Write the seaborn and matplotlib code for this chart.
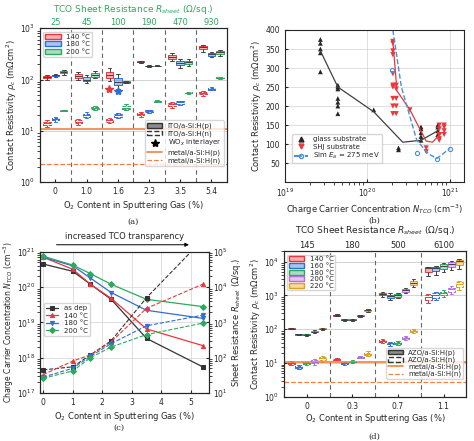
import numpy as np
import pandas as pd
import matplotlib
matplotlib.use("Agg")
import matplotlib.pyplot as plt
import seaborn as sns
from matplotlib.patches import Patch
from matplotlib.lines import Line2D
import matplotlib.colors as mcolors

sns.set_style("ticks")
plt.rcParams['font.family'] = ['DejaVu Sans']
plt.rcParams['font.size'] = 5.5

# ---------------- data (a) ----------------
a_groups = ["0", "1.0", "1.6", "2.3", "3.5", "5.4"]
a_top = ["25", "45", "100", "190", "470", "930"]
a_hues = ["140 °C", "180 °C", "200 °C"]
a_colors = ["#e8383d", "#2f6fd6", "#2ea860"]
# (low, median, high) per group for p-type (solid boxes)
a_p = {
    "140 °C": [(100, 110, 120), (100, 115, 140), (95, 120, 170), (210, 220, 230), (230, 280, 330), (350, 430, 470)],
    "180 °C": [(110, 120, 130), (85, 100, 120), (65, 90, 130), (178, 185, 190), (170, 210, 250), (270, 320, 350)],
    "200 °C": [(125, 140, 150), (105, 120, 145), (85, 90, 95), (180, 185, 190), (180, 220, 250), (290, 340, 370)],
}
a_n = {
    "140 °C": [(12, 14, 16), (13, 15, 17), (14, 16, 18), (19, 21, 23), (28, 33, 36), (48, 55, 60)],
    "180 °C": [(15, 17, 19), (18, 20, 23), (18, 20, 22), (22, 24, 26), (32, 36, 39), (62, 65, 70)],
    "200 °C": [(24, 25, 26), (25, 28, 31), (25, 28, 33), (36, 38, 40), (52, 55, 58), (103, 108, 112)],
}
a_star_groups = ["1.6", "1.6"]
a_star_hue = ["140 °C", "180 °C"]
a_star_vals = [65, 60]

# ---------------- data (b) ----------------
glass_x = [2.7e19]*5 + [4.4e19]*7 + [1.2e20] + [2.4e20]*2 + [4.5e20]*5 + [7.2e20]*4
glass_y = [290, 340, 350, 365, 375, 180, 200, 210, 220, 245, 250, 255, 190, 85, 90,
           110, 120, 130, 140, 145, 125, 135, 145, 150]
glass_fit_x = [2.7e19, 4.4e19, 1.2e20, 2.7e20, 4.5e20, 7.2e20]
glass_fit_y = [345, 250, 185, 105, 110, 135]
shj_x = [2.05e20]*10 + [2.25e20]*5 + [3.3e20] + [5.2e20]*2 + [7.5e20]*5 + [8.6e20]*4
shj_y = [180, 200, 220, 250, 255, 285, 335, 345, 365, 370, 180, 200, 220, 245, 255, 190,
         80, 90, 110, 115, 125, 140, 150, 125, 135, 145, 150]
shj_fit_x = [2.05e20, 2.3e20, 3.3e20, 5.2e20, 6.2e20, 8.0e20]
shj_fit_y = [370, 240, 190, 108, 105, 130]
sim_x = [2.0e20, 4.0e20, 7.0e20, 1.0e21]
sim_y = [295, 77, 62, 88]
sim_line_x = [2.05e20, 2.6e20, 4.0e20, 5.5e20, 7.0e20, 1.0e21]
sim_line_y = [400, 250, 110, 75, 62, 88]

# ---------------- data (c) ----------------
c_x = [0, 1, 1.6, 2.3, 3.5, 5.4]
c_names = ["as dep", "140 °C", "180 °C", "200 °C"]
c_colors = ["#333333", "#e8383d", "#2f6fd6", "#2ea860"]
c_markers = ["s", "^", "v", "D"]
c_N = {
    "as dep": [4.5e20, 2.8e20, 1.2e20, 4.5e19, 3.5e18, 5.5e17],
    "140 °C": [7e20, 3.2e20, 1.2e20, 4.8e19, 6.5e18, 2.2e18],
    "180 °C": [7e20, 4e20, 1.8e20, 7e19, 2.2e19, 1.3e19],
    "200 °C": [7.5e20, 4.2e20, 2.4e20, 1.2e20, 4.5e19, 2.8e19],
}
c_R = {
    "as dep": [45, 55, 120, 300, 5000, 2.2e5],
    "140 °C": [33, 80, 120, 280, 2500, 12000],
    "180 °C": [28, 50, 110, 250, 800, 1600],
    "200 °C": [26, 42, 100, 200, 450, 950],
}

# ---------------- data (d) ----------------
d_groups = ["0", "0.3", "0.7", "1.1"]
d_top = ["145", "180", "500", "6100"]
d_hues = ["140 °C", "160 °C", "180 °C", "200 °C", "220 °C"]
d_colors = ["#e8383d", "#2f6fd6", "#2ea860", "#b46ee0", "#e0a020"]
d_p = {
    "140 °C": [(100, 105, 110), (240, 260, 275), (900, 1100, 1300), (3800, 6500, 7000)],
    "160 °C": [(66, 70, 73), (180, 190, 200), (750, 950, 1150), (4000, 6500, 7500)],
    "180 °C": [(63, 68, 72), (180, 190, 200), (850, 1000, 1150), (5000, 7500, 9000)],
    "200 °C": [(78, 85, 92), (230, 250, 265), (1150, 1400, 1700), (5500, 8500, 10500)],
    "220 °C": [(95, 105, 112), (330, 360, 390), (1800, 2400, 3000), (6000, 10500, 12000)],
}
d_n = {
    "140 °C": [(8.5, 10, 11.5), (12, 13, 14), (40, 45, 50), (600, 900, 1100)],
    "160 °C": [(6.5, 7.5, 8.5), (9, 10, 11), (33, 38, 43), (750, 1000, 1300)],
    "180 °C": [(9, 10, 11), (10, 11, 12), (35, 40, 45), (900, 1200, 1400)],
    "200 °C": [(9, 11, 13), (14, 15, 16), (48, 55, 62), (1100, 1500, 1900)],
    "220 °C": [(11, 14, 16), (16, 19, 22), (75, 90, 105), (1400, 2200, 2700)],
}


def long_df(groups, hues, d):
    rows = []
    for h in hues:
        for g, vals in zip(groups, d[h]):
            for v in vals:
                rows.append((g, h, v))
    return pd.DataFrame(rows, columns=["g", "h", "v"])


def draw_boxes(ax, groups, hues, colors, pdat, ndat, width=0.8):
    pal = dict(zip(hues, colors))
    n0 = len(ax.patches)
    sns.boxplot(data=long_df(groups, hues, pdat), x="g", y="v", hue="h", order=groups,
                hue_order=hues, palette=pal, saturation=1, width=width, linewidth=0.7,
                whis=10, fliersize=0, legend=False, ax=ax, gap=0.1)
    for i, p in enumerate(ax.patches[n0:]):
        c = colors[(i // len(groups)) % len(hues)]
        p.set_facecolor(mcolors.to_rgba(c, 0.4))
        p.set_edgecolor(c)
    sns.boxplot(data=long_df(groups, hues, ndat), x="g", y="v", hue="h", order=groups,
                hue_order=hues, palette=pal, saturation=1, width=width, linewidth=0.7,
                whis=10, fliersize=0, legend=False, fill=False, ax=ax, gap=0.1,
                boxprops=dict(linestyle="--"))
    for k in range(len(groups) - 1):
        ax.axvline(k + 0.5, color="0.4", ls=(0, (4, 3)), lw=0.8)
    ax.set_xlim(-0.5, len(groups) - 0.5)


fig = plt.figure(figsize=(4.74, 4.41), dpi=100)

# ================= (a) =================
ax = fig.add_axes([0.084, 0.587, 0.395, 0.349])
ax.set_yscale("log")
ax.set_ylim(1, 1000)
ax.grid(axis="y", which="major", color="0.8", lw=0.6)
draw_boxes(ax, a_groups, a_hues, a_colors, a_p, a_n)
ax.axhline(11, color="#f08040", lw=1.2)
ax.axhline(2.3, color="#f08040", lw=0.9, ls="--")
off = {"140 °C": -0.27, "180 °C": 0.0, "200 °C": 0.27}
for g, h, v in zip(a_star_groups, a_star_hue, a_star_vals):
    ax.plot(a_groups.index(g) + off[h], v, marker="*", ms=6, color=a_colors[a_hues.index(h)], ls="none")
ax.set_xlabel("O$_2$ Content in Sputtering Gas (%)", fontsize=6, labelpad=2)
ax.set_ylabel(r"Contact Resistivity $\rho_c$ (m$\Omega$cm$^2$)", fontsize=6, labelpad=1)
ax.tick_params(labelsize=5.5, length=2, direction="in")
top = ax.twiny()
top.set_xlim(ax.get_xlim())
top.set_xticks(range(len(a_top)))
top.set_xticklabels(a_top, color="#2ea860", fontsize=6)
top.tick_params(length=0, pad=1)
top.set_xlabel(r"TCO Sheet Resistance $R_{sheet}$ ($\Omega$/sq.)", color="#2ea860", fontsize=6.5, labelpad=4)
leg1 = ax.legend([Patch(fc=mcolors.to_rgba(c, 0.4), ec=c) for c in a_colors], a_hues,
                 loc="upper left", fontsize=5, frameon=True, handlelength=2.2,
                 borderpad=0.3, labelspacing=0.2)
ax.add_artist(leg1)
h2 = [Patch(fc="0.55", ec="0.2"), Patch(fc="none", ec="0.2", ls="--"),
      Line2D([], [], marker="*", color="k", ls="none", ms=6),
      Line2D([], [], color="#f08040", lw=1.2), Line2D([], [], color="#f08040", lw=0.9, ls="--")]
ax.legend(h2, ["ITO/a-Si:H(p)", "ITO/a-Si:H(n)", "WO$_x$ interlayer", "metal/a-Si:H(p)", "metal/a-Si:H(n)"],
          loc="lower right", fontsize=5, frameon=True, handlelength=2.2, borderpad=0.3,
          labelspacing=0.2, bbox_to_anchor=(1.0, 0.08))
fig.text(0.28, 0.492, "(a)", fontsize=6, ha="center", family="serif")

# ================= (b) =================
ax = fig.add_axes([0.601, 0.587, 0.378, 0.345])
ax.set_xscale("log")
ax.set_xlim(1e19, 1.5e21)
ax.set_ylim(0, 400)
ax.set_yticks(range(50, 401, 50))
ax.grid(True, which="major", color="0.85", lw=0.6)
sns.lineplot(x=glass_fit_x, y=glass_fit_y, color="0.25", lw=0.9, ax=ax)
sns.lineplot(x=shj_fit_x, y=shj_fit_y, color="#e8383d", lw=0.9, ax=ax)
sns.lineplot(x=sim_line_x, y=sim_line_y, color="#4a90d9", lw=1.0, ls="--", ax=ax)
sns.scatterplot(x=glass_x, y=glass_y, marker="^", color="0.15", s=12, edgecolor="none", ax=ax)
sns.scatterplot(x=shj_x, y=shj_y, marker="v", color="#e8383d", s=14, edgecolor="none", ax=ax)
ax.plot(sim_x, sim_y, "o", mfc="none", mec="#4a90d9", ms=3, mew=0.8)
hb = [Line2D([], [], marker="^", color="0.15", ls="none", ms=3.5),
      Line2D([], [], marker="v", color="#e8383d", ls="none", ms=3.5),
      Line2D([], [], marker="o", mfc="none", mec="#4a90d9", color="#4a90d9", ls="--", ms=3)]
ax.legend(hb, ["glass substrate", "SHJ substrate", "Sim $E_a$ = 275 meV"], loc="lower left",
          bbox_to_anchor=(0.02, 0.1), fontsize=5, borderpad=0.3, labelspacing=0.2)
ax.set_xlabel(r"Charge Carrier Concentration $N_{TCO}$ (cm$^{-3}$)", fontsize=6, labelpad=2)
ax.set_ylabel(r"Contact Resistivity $\rho_c$ (m$\Omega$cm$^2$)", fontsize=6, labelpad=1)
ax.tick_params(labelsize=5.5, length=2, direction="in")
fig.text(0.79, 0.495, "(b)", fontsize=6, ha="center", family="serif")

# ================= (c) =================
ax = fig.add_axes([0.085, 0.109, 0.355, 0.320])
ax.set_yscale("log")
ax.set_ylim(1e17, 1e21)
ax.set_xlim(-0.1, 5.6)
ax.grid(True, which="major", color="0.85", lw=0.6)
axr = ax.twinx()
axr.set_yscale("log")
axr.set_ylim(1e1, 1e5)
for name, col, mk in zip(c_names, c_colors, c_markers):
    sns.lineplot(x=c_x, y=c_N[name], color=col, marker=mk, ms=3, mec=col, lw=0.9, ax=ax, label=name)
    sns.lineplot(x=c_x, y=c_R[name], color=col, marker=mk, ms=3, mec=col, lw=0.8, ls="--", ax=axr, legend=False)
ax.legend(loc="center left", bbox_to_anchor=(0.0, 0.52), fontsize=5, borderpad=0.3,
          labelspacing=0.2, handlelength=1.8)
ax.set_xlabel("O$_2$ Content in Sputtering Gas (%)", fontsize=6, labelpad=2)
ax.set_ylabel(r"Charge Carrier Concentration $N_{TCO}$ (cm$^{-3}$)", fontsize=5.5, labelpad=1)
axr.set_ylabel(r"Sheet Resistance $R_{sheet}$ ($\Omega$/sq.)", fontsize=6, labelpad=1)
ax.tick_params(labelsize=5.5, length=2, direction="in")
axr.tick_params(labelsize=5.5, length=2, direction="in")
ax.annotate("", xy=(0.2, 1.5e20), xytext=(1.2, 1.8e20),
            arrowprops=dict(arrowstyle="->", connectionstyle="arc3,rad=-0.4", lw=0.7))
ax.annotate("", xy=(4.4, 1.5e20), xytext=(3.9, 4e20),
            arrowprops=dict(arrowstyle="->", connectionstyle="arc3,rad=0.5", lw=0.7))
ax.annotate("", xy=(0.9, 1.05), xytext=(0.08, 1.05), xycoords="axes fraction",
            arrowprops=dict(arrowstyle="-|>", lw=0.7, color="k"))
ax.text(0.5, 1.09, "increased TCO transparency", transform=ax.transAxes, ha="center", fontsize=6)
fig.text(0.25, 0.025, "(c)", fontsize=6, ha="center", family="serif")

# ================= (d) =================
ax = fig.add_axes([0.599, 0.1, 0.385, 0.33])
ax.set_yscale("log")
ax.set_ylim(1, 2e4)
ax.grid(axis="y", which="major", color="0.8", lw=0.6)
draw_boxes(ax, d_groups, d_hues, d_colors, d_p, d_n, width=0.85)
ax.axhline(11, color="#f08040", lw=1.2)
ax.axhline(2.8, color="#f08040", lw=0.9, ls="--")
ax.set_xlabel("O$_2$ Content in Sputtering Gas (%)", fontsize=6, labelpad=1)
ax.set_ylabel(r"Contact Resistivity $\rho_c$ (m$\Omega$cm$^2$)", fontsize=6, labelpad=1)
ax.tick_params(labelsize=5.5, length=2, direction="in")
top = ax.twiny()
top.set_xlim(ax.get_xlim())
top.set_xticks(range(len(d_top)))
top.set_xticklabels(d_top, fontsize=6)
top.tick_params(length=0, pad=1)
top.set_xlabel(r"TCO Sheet Resistance $R_{sheet}$ ($\Omega$/sq.)", fontsize=6.5, labelpad=6)
leg1 = ax.legend([Patch(fc=mcolors.to_rgba(c, 0.4), ec=c) for c in d_colors], d_hues,
                 loc="upper left", fontsize=5, frameon=True, handlelength=2.2,
                 borderpad=0.2, labelspacing=0.1)
ax.add_artist(leg1)
h2 = [Patch(fc="0.55", ec="0.2"), Patch(fc="none", ec="0.2", ls="--"),
      Line2D([], [], color="#f08040", lw=1.2), Line2D([], [], color="#f08040", lw=0.9, ls="--")]
ax.legend(h2, ["AZO/a-Si:H(p)", "AZO/a-Si:H(n)", "metal/a-Si:H(p)", "metal/a-Si:H(n)"],
          loc="lower right", fontsize=5, frameon=True, handlelength=2.2, borderpad=0.2,
          labelspacing=0.1, bbox_to_anchor=(1.0, 0.1))
fig.text(0.79, 0.005, "(d)", fontsize=6, ha="center", family="serif")

fig.savefig("out.png", dpi=100)
